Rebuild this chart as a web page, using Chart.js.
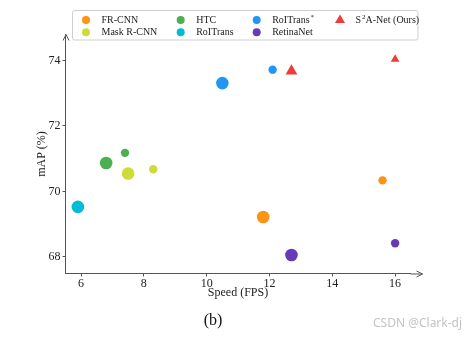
<!DOCTYPE html>
<html>
<head>
<meta charset="utf-8">
<script src="https://cdn.jsdelivr.net/npm/chart.js@4"></script>
<style>
  html, body { margin: 0; padding: 0; background: #fff; }
  #wrap { width: 474px; height: 338px; }
</style>
</head>
<body>
<div id="wrap"><canvas id="speedChart" width="474" height="338"></canvas></div>
<script>
// données (vitesse en FPS, mAP en %)
const methods = ["FR-CNN", "Mask R-CNN", "HTC", "RoITrans", "RoITrans^*", "RetinaNet", "S^2A-Net (Ours)"]
const fpsFRCNN = [11.8, 15.6]
const mapFRCNN = [69.22, 70.34]
const fpsMaskRCNN = [7.5, 8.3]
const mapMaskRCNN = [70.55, 70.68]
const fpsHTC = [6.8, 7.4]
const mapHTC = [70.87, 71.18]
const fpsRoITrans = [5.9]
const mapRoITrans = [69.53]
const fpsRoITransStar = [10.5, 12.1]
const mapRoITransStar = [73.31, 73.72]
const fpsRetinaNet = [12.7, 16.0]
const mapRetinaNet = [68.06, 68.42]
const fpsS2ANet = [12.7, 16.0]
const mapS2ANet = [73.68, 74.04]

const xTicks = [6, 8, 10, 12, 14, 16]
const yTicks = [68, 70, 72, 74]

const colors = ["#FB9313", "#CDDC39", "#4CAF50", "#00BCD4", "#2196F3", "#673AB7", "#EF3B3A"]
const serif = "'Liberation Serif', 'Times New Roman', serif"
const axisColor = "#555"

const toPoints = (xs, ys) => xs.map((x, i) => ({ x, y: ys[i] }))

const series = [
  [fpsFRCNN, mapFRCNN],
  [fpsMaskRCNN, mapMaskRCNN],
  [fpsHTC, mapHTC],
  [fpsRoITrans, mapRoITrans],
  [fpsRoITransStar, mapRoITransStar],
  [fpsRetinaNet, mapRetinaNet],
  [fpsS2ANet, mapS2ANet],
]

const datasets = series.map(([xs, ys], i) => {
  const isOurs = i === methods.length - 1
  return {
    label: methods[i],
    data: toPoints(xs, ys),
    backgroundColor: colors[i],
    borderWidth: 0,
    pointStyle: isOurs ? "triangle" : "circle",
    // premier point = gros marqueur, second = petit
    pointRadius: xs.map((_, k) => (isOurs ? (k === 0 ? 6.8 : 5) : (k === 0 ? 6.3 : 4.2))),
    pointHoverRadius: xs.map((_, k) => (isOurs ? (k === 0 ? 6.8 : 5) : (k === 0 ? 6.3 : 4.2))),
  }
})

// dessine un libellé avec exposant (caractère après ^)
const drawLabel = (ctx, text, x, y, size) => {
  let cx = x
  const parts = text.split("^")
  parts.forEach((part, idx) => {
    let rest = part
    if (idx > 0) {
      const sup = part.charAt(0)
      rest = part.slice(1)
      ctx.font = `${size * 0.7}px ${serif}`
      ctx.fillText(sup, cx + 1, y - size * 0.35)
      cx += ctx.measureText(sup).width + 1
    }
    ctx.font = `${size}px ${serif}`
    ctx.fillText(rest, cx, y)
    cx += ctx.measureText(rest).width
  })
}

const decorPlugin = {
  id: "decor",
  afterDraw(chart) {
    const { ctx, chartArea } = chart
    const { left, top, right, bottom } = chartArea
    ctx.save()

    // flèches des axes
    ctx.strokeStyle = axisColor
    ctx.lineWidth = 1
    ctx.beginPath()
    ctx.moveTo(right, bottom + 0.5)
    ctx.lineTo(right + 12, bottom + 0.5)
    ctx.moveTo(right + 6, bottom - 2.5)
    ctx.lineTo(right + 12, bottom + 0.5)
    ctx.lineTo(right + 6, bottom + 3.5)
    ctx.moveTo(left - 2.5, top + 6)
    ctx.lineTo(left + 0.5, top)
    ctx.lineTo(left + 3.5, top + 6)
    ctx.stroke()

    // légende sur quatre colonnes
    const bx = 72.5, by = 10.5, bw = 345.5, bh = 29.5
    ctx.fillStyle = "#fff"
    ctx.strokeStyle = "#cfcfcf"
    ctx.beginPath()
    ctx.roundRect(bx, by, bw, bh, 2)
    ctx.fill()
    ctx.stroke()

    const colX = [86, 180.7, 256.7, 340]
    const rowY = [20, 32.3]
    ctx.textBaseline = "middle"
    ctx.textAlign = "left"
    chart.data.datasets.forEach((ds, i) => {
      const mx = colX[Math.floor(i / 2)]
      const my = rowY[i % 2]
      ctx.fillStyle = ds.backgroundColor
      ctx.beginPath()
      if (ds.pointStyle === "triangle") {
        ctx.moveTo(mx, my - 5.5)
        ctx.lineTo(mx + 5, my + 3)
        ctx.lineTo(mx - 5, my + 3)
        ctx.closePath()
      } else {
        ctx.arc(mx, my, 4, 0, Math.PI * 2)
      }
      ctx.fill()
      ctx.fillStyle = "#222"
      drawLabel(ctx, ds.label, mx + 15.5, my + 0.5, 10)
    })

    // sous-titre et filigrane
    ctx.textAlign = "center"
    ctx.fillStyle = "#111"
    ctx.font = `16px ${serif}`
    ctx.fillText("(b)", 213, 321)
    ctx.textAlign = "left"
    ctx.fillStyle = "#c4c4c4"
    ctx.font = "12px 'Noto Sans', sans-serif"
    ctx.fillText("CSDN @Clark-dj", 373, 324)

    ctx.restore()
  },
}

const ctx = document.getElementById("speedChart").getContext("2d")

new Chart(ctx, {
  type: "scatter",
  data: { datasets },
  options: {
    responsive: false,
    animation: false,
    layout: {
      padding: { top: 34.5, right: 63.5, bottom: 37.5, left: 0 },
    },
    plugins: {
      legend: { display: false },
      tooltip: { enabled: false },
    },
    scales: {
      x: {
        type: "linear",
        min: 5.506,
        max: 16.49,
        afterFit: (scale) => {
          scale.height = 27
        },
        afterBuildTicks: (scale) => {
          scale.ticks = xTicks.map((value) => ({ value }))
        },
        border: { display: true, color: axisColor, width: 1 },
        grid: {
          drawOnChartArea: false,
          drawTicks: true,
          tickLength: 3,
          color: axisColor,
        },
        ticks: {
          padding: 0,
          color: "#222",
          font: { family: serif, size: 12 },
        },
        title: {
          display: true,
          text: "Speed (FPS)",
          color: "#222",
          padding: { top: 0, bottom: 0 },
          font: { family: serif, size: 12 },
        },
      },
      y: {
        type: "linear",
        min: 67.496,
        max: 74.794,
        afterFit: (scale) => {
          scale.width = 65.5
        },
        afterBuildTicks: (scale) => {
          scale.ticks = yTicks.map((value) => ({ value }))
        },
        border: { display: true, color: axisColor, width: 1 },
        grid: {
          drawOnChartArea: false,
          drawTicks: true,
          tickLength: 3,
          color: axisColor,
        },
        ticks: {
          padding: 2,
          color: "#222",
          font: { family: serif, size: 12 },
        },
        title: {
          display: true,
          text: "mAP (%)",
          color: "#222",
          padding: { top: 34.8, bottom: 0 },
          font: { family: serif, size: 12 },
        },
      },
    },
  },
  plugins: [decorPlugin],
})
</script>
</body>
</html>
